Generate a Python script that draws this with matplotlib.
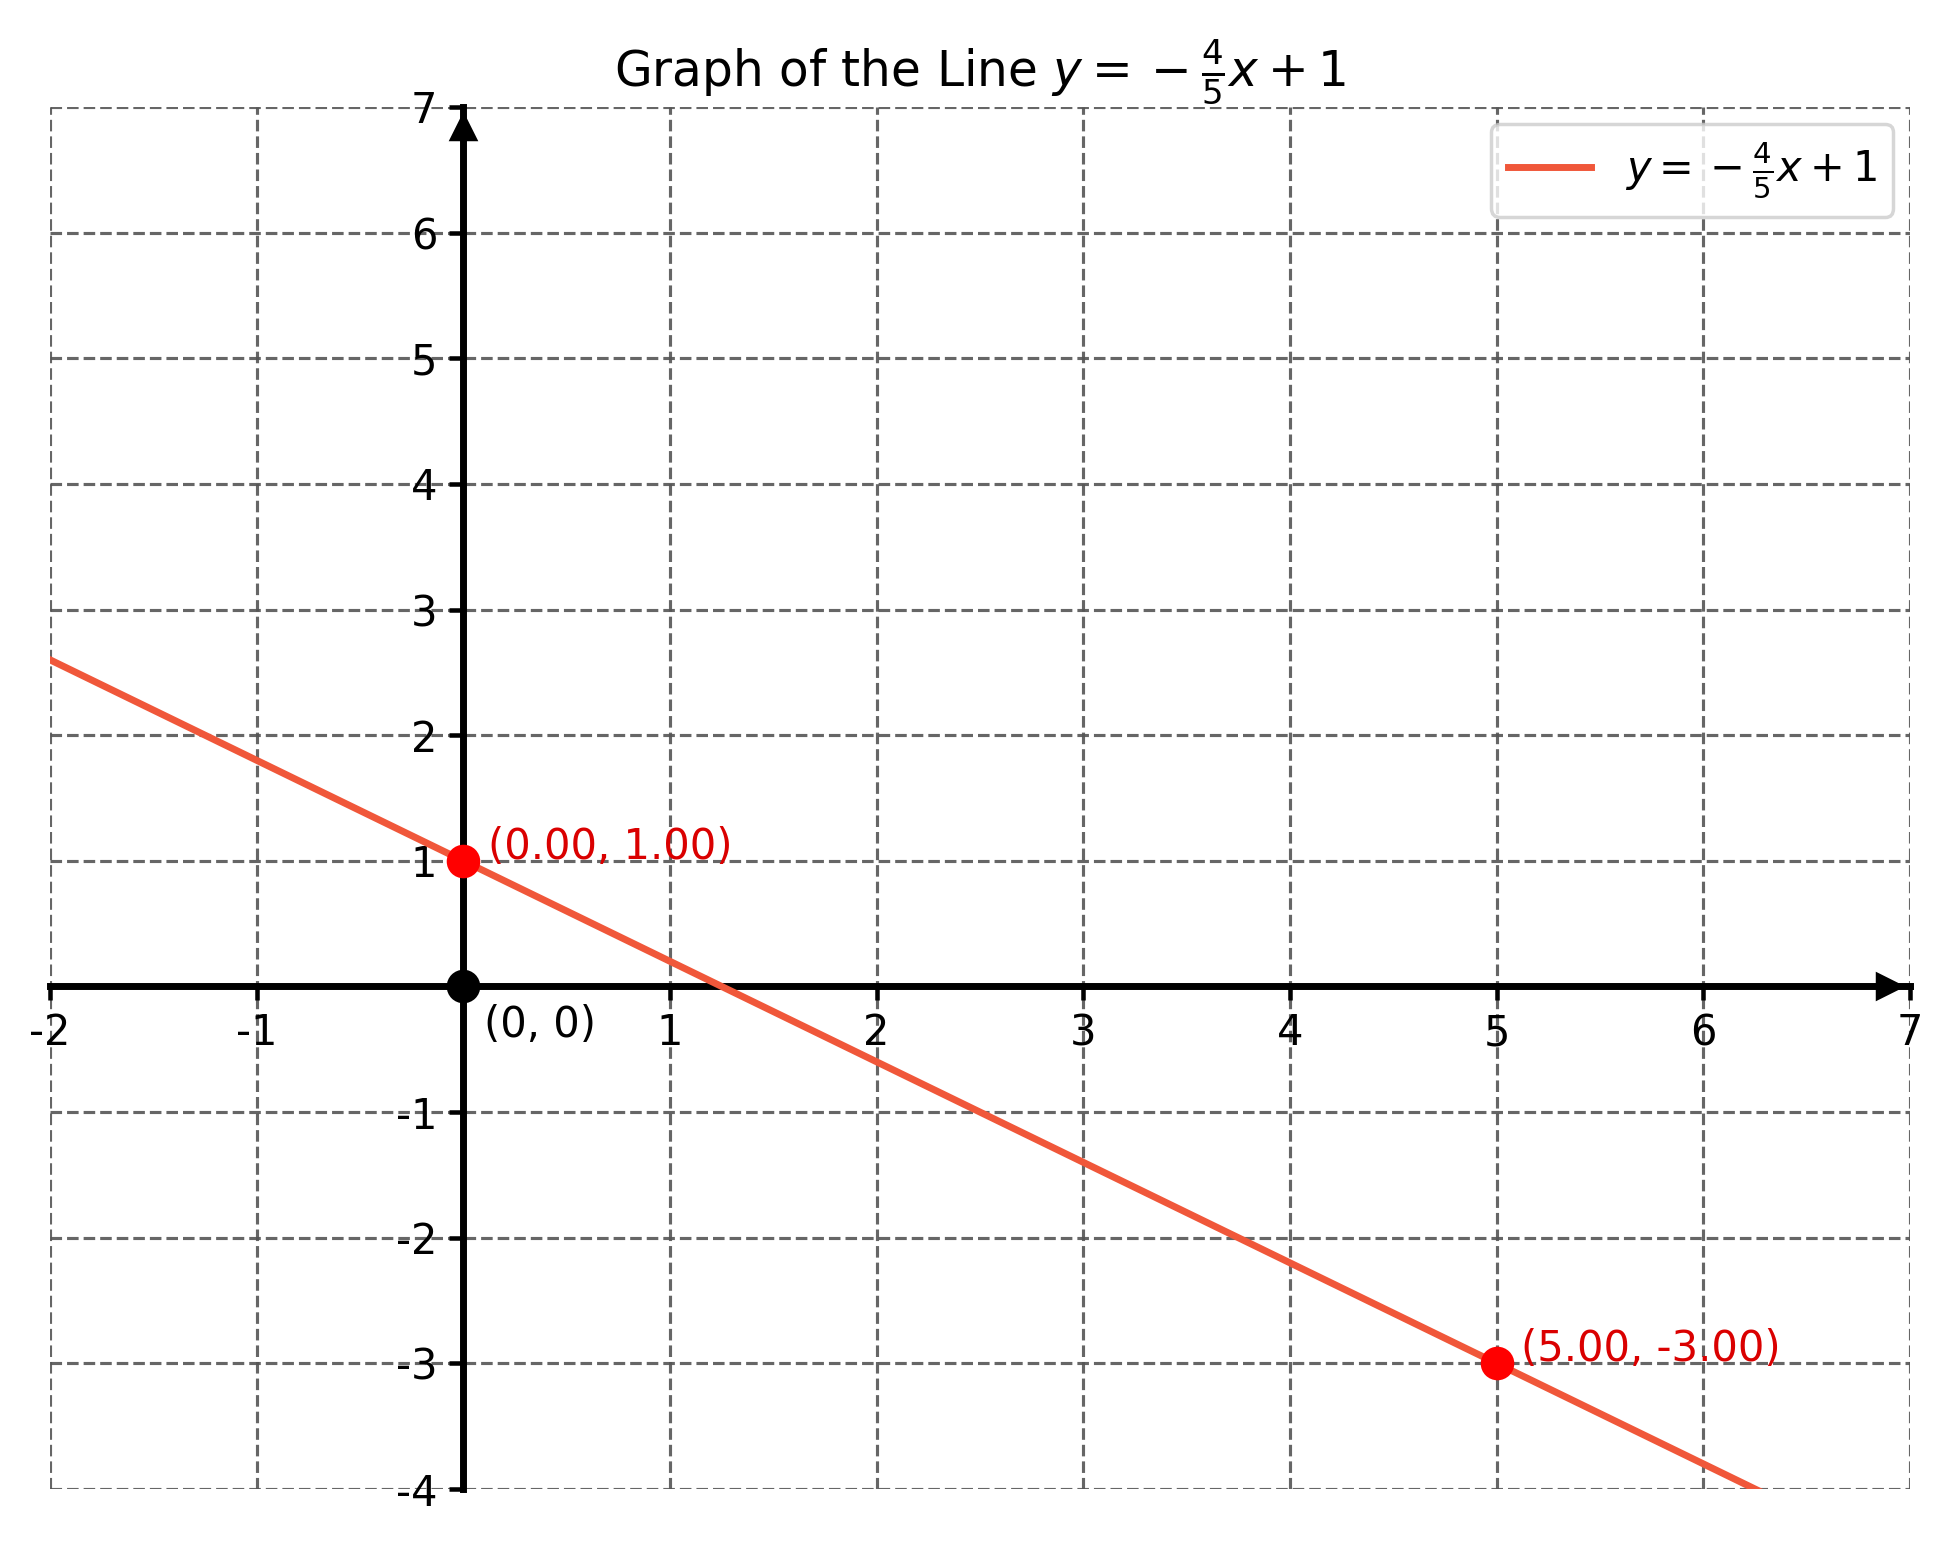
import numpy as np
import matplotlib
matplotlib.use("Agg")
import matplotlib.pyplot as plt

plt.rcParams['axes.unicode_minus'] = False

slope = -4 / 5
intercept = 1
x_range = [-2, 7]
y_range = [-4, 7]
x_ticks = [-2, -1, 1, 2, 3, 4, 5, 6, 7]
y_ticks = [-4, -3, -2, -1, 1, 2, 3, 4, 5, 6, 7]
points_x = [0, 5]
points_y = [1, -3]
point_labels = ["(0.00, 1.00)", "(5.00, -3.00)"]

DPI = 250
fig = plt.figure(figsize=(1953 / DPI, 1546 / DPI), dpi=DPI)
ax = fig.add_axes([50/1953, 1 - 1489/1546, (1910-50)/1953, (1489-107)/1546])

eq = r'$y = {} - \frac{4}{5}x + 1$'
xs = np.linspace(x_range[0], x_range[1], 200)
ax.plot(xs, slope * xs + intercept, color='#F0573A', lw=2, label=eq, zorder=3)
ax.scatter(points_x, points_y, color='red', s=75, zorder=5)
for px, py, lab in zip(points_x, points_y, point_labels):
    ax.annotate(lab, (px, py), xytext=(7, 4), textcoords='offset points',
                color='#DA0000', fontsize=12, va='center', ha='left')
ax.scatter([0], [0], color='black', s=75, zorder=6, clip_on=False)
ax.annotate("(0, 0)", (0, 0), xytext=(6, -11), textcoords='offset points',
            color='black', fontsize=12, va='center', ha='left')

ax.set_xlim(*x_range)
ax.set_ylim(*y_range)
ax.spines['left'].set_position(('data', 0))
ax.spines['bottom'].set_position(('data', 0))
ax.spines['top'].set_visible(False)
ax.spines['right'].set_visible(False)
ax.spines['left'].set_linewidth(2)
ax.spines['bottom'].set_linewidth(2)
ax.set_xticks(x_ticks)
ax.set_xticklabels([str(t) for t in x_ticks])
ax.set_yticks(y_ticks)
ax.set_yticklabels([str(t) for t in y_ticks])
ax.tick_params(labelsize=12, width=1.3, length=4)
for g in range(x_range[0], x_range[1] + 1):
    ax.axvline(g, ls='--', color='#555555', lw=0.9, alpha=0.9, zorder=0)
for g in range(y_range[0], y_range[1] + 1):
    ax.axhline(g, ls='--', color='#555555', lw=0.9, alpha=0.9, zorder=0)

ax.plot(6.90, 0, '>k', clip_on=False, ms=7, zorder=7)
ax.plot(0, 6.84, '^k', clip_on=False, ms=7, zorder=7)

ax.set_title(r'Graph of the Line ' + eq, fontsize=14, pad=6)
ax.legend(loc='upper right', fontsize=12, borderaxespad=0.4)

fig.savefig('out.png', dpi=DPI)
